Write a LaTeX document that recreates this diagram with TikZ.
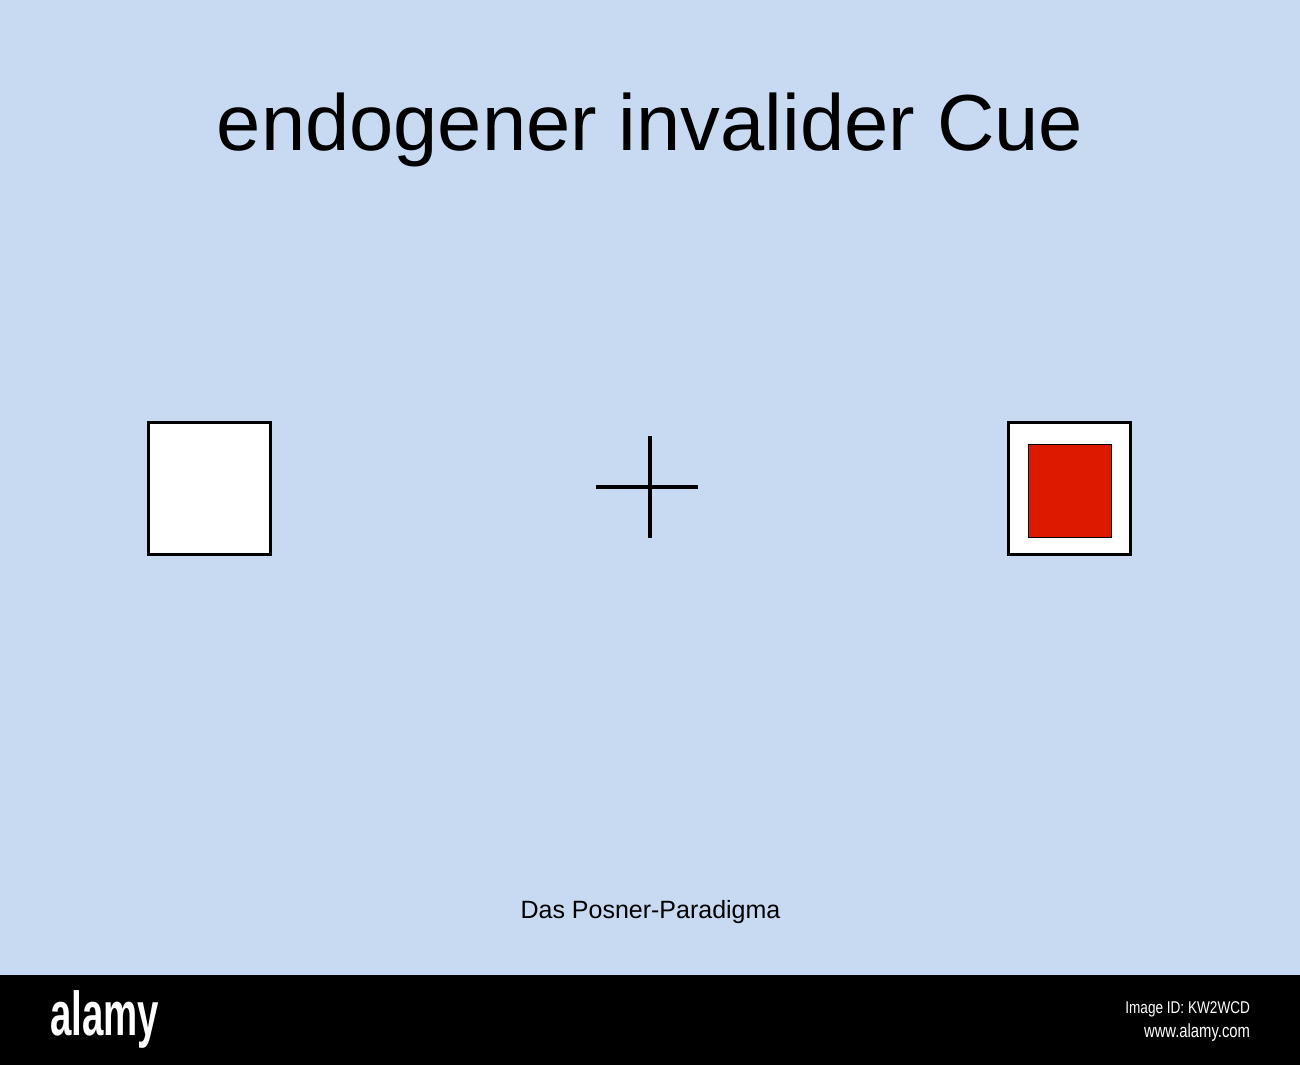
\documentclass[tikz,border=0pt]{standalone}
\usepackage{fontspec}
\setmainfont{Liberation Sans}
\definecolor{bgblue}{HTML}{C7DAF2}
\definecolor{cuered}{HTML}{DD1A00}
\begin{document}
\begin{tikzpicture}[x=1pt,y=-1pt,
  frame/.style={draw=black,line width=3pt,fill=white},
  txt/.style={inner sep=0pt,outer sep=0pt}]
\useasboundingbox (0,0) rectangle (1300,1065);
\fill[bgblue] (0,0) rectangle (1300,975);
\fill[black] (0,975) rectangle (1300,1065);
% title
\node[txt,anchor=base] (title) at (650,150) {\fontsize{79.5pt}{90pt}\selectfont endogener invalider Cue};
% left box
\node[frame,minimum width=122pt,minimum height=132pt,inner sep=0pt] (left) at (209.5,488.5) {};
% right box
\node[frame,minimum width=122pt,minimum height=132pt,inner sep=0pt] (right) at (1069.5,488.5) {};
\node[draw=black,line width=1pt,fill=cuered,minimum width=83pt,minimum height=93pt,inner sep=0pt] (target) at (1069.5,490.5) {};
% fixation cross
\coordinate (vt) at (650,436);
\coordinate (vb) at (650,538);
\coordinate (hl) at (596,487);
\coordinate (hr) at (698,487);
\draw[line width=4.5pt] (vt) -- (vb);
\draw[line width=3.5pt] (hl) -- (hr);
% caption
\node[txt,anchor=base] (caption) at (650.5,918) {\fontsize{25pt}{30pt}\selectfont Das Posner-Paradigma};
% footer bar
\node[txt,anchor=base west,text=white,xscale=0.62] (logo) at (50,1035) {\fontsize{62pt}{70pt}\selectfont\bfseries alamy};
\node[txt,anchor=base east,text=white,xscale=0.8] (imgid) at (1250,1013) {\fontsize{17pt}{20pt}\selectfont Image ID: KW2WCD};
\node[txt,anchor=base east,text=white,xscale=0.78] (www) at (1250,1037) {\fontsize{19pt}{20pt}\selectfont www.alamy.com};
\end{tikzpicture}
\end{document}
